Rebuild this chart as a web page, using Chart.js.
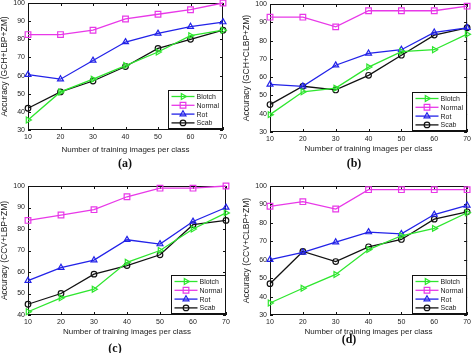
<!DOCTYPE html>
<html>
<head>
<meta charset="utf-8">
<script src="https://cdn.jsdelivr.net/npm/chart.js@4"></script>
<style>
  body { margin: 0; background: #fff; width: 474px; height: 353px; overflow: hidden; position: relative; }
  canvas { position: absolute; }
  .tag { position: absolute; font: bold 12px "Liberation Serif", "Times New Roman", serif; color: #111; transform: translate(-50%, -50%); }
</style>
</head>
<body>
<script>
const trainingImages = [10, 20, 30, 40, 50, 60, 70];
const seriesNames = ["Blotch", "Normal", "Rot", "Scab"];

// (a) GCH+LBP+ZM
const blotchA = [35.5, 51, 58, 65.5, 73, 82, 85];
const normalA = [82.6, 82.6, 85, 91.2, 93.8, 96.3, 100];
const rotA = [60.5, 58, 68.3, 78.5, 83.2, 87, 89.5];
const scabA = [42, 51, 57, 65, 75, 80, 85];

// (b) GCH+CLBP+ZM
const blotchB = [39.5, 52, 54, 65.5, 74, 75, 83.5];
const normalB = [92.8, 92.8, 87.5, 96.3, 96.3, 96.3, 98.8];
const rotB = [56, 55, 66.5, 73, 75, 84.5, 87];
const scabB = [45, 55, 53, 61, 72, 83, 87];

// (c) CCV+LBP+ZM
const blotchC = [41.5, 48, 52, 64.5, 70, 80, 87.5];
const normalC = [84, 86.5, 89, 95, 99, 99, 100];
const rotC = [56, 62, 65.5, 75, 73, 83.5, 90];
const scabC = [45, 50, 59, 63, 68, 82, 84];

// (d) CCV+CLBP+ZM
const blotchD = [36.5, 44.5, 52, 65.5, 73, 77, 85.5];
const normalD = [89, 91.5, 87.5, 98, 98, 98, 98];
const rotD = [60, 64, 69.5, 75, 74, 84.5, 89.5];
const scabD = [47, 64.5, 59, 67, 71, 82, 86];

const colors = ["#2ee62e", "#e838e8", "#2222e8", "#111111"];
const markers = [
  { style: "triangle", rot: 90, r: 3.4 },
  { style: "rect", rot: 0, r: 4 },
  { style: "triangle", rot: 0, r: 3.4 },
  { style: "circle", rot: 0, r: 2.8 }
];

const panels = [
  { tag: "(a)", yTitle: "Accuracy (GCH+LBP+ZM)", yMin: 30, series: [blotchA, normalA, rotA, scabA],
    x0: 0, y0: 0, area: { l: 28, r: 223, t: 3, b: 130 }, xTitleOff: 20, yTitlePad: 0, tagPos: [125, 163] },
  { tag: "(b)", yTitle: "Accuracy (GCH+CLBP+ZM)", yMin: 30, series: [blotchB, normalB, rotB, scabB],
    x0: 237, y0: 0, area: { l: 270, r: 469, t: 4, b: 132 }, xTitleOff: 17, yTitlePad: 5, tagPos: [354, 163] },
  { tag: "(c)", yTitle: "Accuracy (CCV+LBP+ZM)", yMin: 40, series: [blotchC, normalC, rotC, scabC],
    x0: 0, y0: 176, area: { l: 28, r: 226, t: 186, b: 315 }, xTitleOff: 17, yTitlePad: 0, tagPos: [115, 348] },
  { tag: "(d)", yTitle: "Accuracy (CCV+CLBP+ZM)", yMin: 30, series: [blotchD, normalD, rotD, scabD],
    x0: 237, y0: 176, area: { l: 270, r: 469, t: 186, b: 315 }, xTitleOff: 17, yTitlePad: 5, tagPos: [349, 339] }
];

Chart.defaults.font.family = "'Liberation Sans', Arial, sans-serif";
Chart.defaults.color = "#222";

function drawMarker(ctx, m, x, y, color) {
  ctx.save();
  ctx.strokeStyle = color;
  ctx.lineWidth = 1.2;
  ctx.fillStyle = "rgba(0,0,0,0)";
  Chart.helpers.drawPoint(ctx, { pointStyle: m.style, rotation: m.rot, radius: m.r, borderWidth: 1.2 }, x, y);
  ctx.restore();
}

// box round the plot with ticks pointing inwards
const boxPlugin = {
  id: "box",
  beforeDatasetsDraw(chart) {
    const { ctx, chartArea: a, scales } = chart;
    ctx.save();
    ctx.strokeStyle = "#111";
    ctx.lineWidth = 1;
    ctx.strokeRect(a.left + 0.5, a.top + 0.5, a.right - a.left - 1, a.bottom - a.top - 1);
    ctx.beginPath();
    scales.x.ticks.forEach((t, i) => {
      const px = Math.round(scales.x.getPixelForTick(i)) + 0.5;
      ctx.moveTo(px, a.bottom); ctx.lineTo(px, a.bottom - 3);
      ctx.moveTo(px, a.top); ctx.lineTo(px, a.top + 3);
    });
    scales.y.ticks.forEach((t, i) => {
      const py = Math.round(scales.y.getPixelForTick(i)) + 0.5;
      ctx.moveTo(a.left, py); ctx.lineTo(a.left + 3, py);
      ctx.moveTo(a.right, py); ctx.lineTo(a.right - 3, py);
    });
    ctx.stroke();
    ctx.restore();
  },
  afterDraw(chart) {
    const { ctx, chartArea: a } = chart;
    const w = 55, h = 38;
    const bx = Math.round(a.right - w) + 0.5, by = Math.round(a.bottom - 2 - h) + 0.5;
    ctx.save();
    ctx.fillStyle = "#fff";
    ctx.fillRect(bx, by, w - 1, h);
    ctx.strokeStyle = "#111";
    ctx.lineWidth = 1;
    ctx.strokeRect(bx, by, w - 1, h);
    chart.data.datasets.forEach((ds, i) => {
      const yy = by + 6 + i * 8.8;
      ctx.strokeStyle = ds.borderColor;
      ctx.lineWidth = 1.3;
      ctx.beginPath();
      ctx.moveTo(bx + 3, yy); ctx.lineTo(bx + 26, yy);
      ctx.stroke();
      drawMarker(ctx, markers[i], bx + 14.5, yy, ds.borderColor);
      ctx.fillStyle = "#222";
      ctx.font = "7px 'Liberation Sans', Arial, sans-serif";
      ctx.textBaseline = "middle";
      ctx.fillText(ds.label, bx + 28, yy + 0.5);
    });
    ctx.restore();
  }
};

panels.forEach(p => {
  const canvasTop = p.y0 - 12;
  const H = 188, W = 237;
  const canvas = document.createElement("canvas");
  canvas.width = W; canvas.height = H;
  canvas.style.left = p.x0 + "px";
  canvas.style.top = canvasTop + "px";
  document.body.appendChild(canvas);

  const tag = document.createElement("div");
  tag.className = "tag";
  tag.textContent = p.tag;
  tag.style.left = p.tagPos[0] + "px";
  tag.style.top = p.tagPos[1] + "px";
  document.body.appendChild(tag);

  const xH = p.xTitleOff + 5;
  const yW = p.area.l - p.x0;
  const areaBottom = p.area.b - canvasTop;

  new Chart(canvas.getContext("2d"), {
    type: "line",
    data: {
      labels: trainingImages,
      datasets: p.series.map((vals, i) => ({
        label: seriesNames[i],
        data: vals,
        borderColor: colors[i],
        borderWidth: 1.3,
        pointStyle: markers[i].style,
        pointRotation: markers[i].rot,
        pointRadius: markers[i].r,
        pointBorderWidth: 1.2,
        pointBorderColor: colors[i],
        pointBackgroundColor: "rgba(0,0,0,0)",
        backgroundColor: "rgba(0,0,0,0)",
        tension: 0,
        clip: false
      }))
    },
    options: {
      responsive: false,
      animation: false,
      devicePixelRatio: 1,
      layout: {
        padding: {
          left: 0,
          top: p.area.t - canvasTop,
          right: p.x0 + W - p.area.r,
          bottom: H - areaBottom - xH
        }
      },
      plugins: { legend: { display: false }, tooltip: { enabled: false } },
      scales: {
        x: {
          offset: false,
          afterFit: s => { s.height = xH; },
          grid: { display: false, drawTicks: false },
          border: { display: false },
          ticks: { padding: 3, font: { size: 7 }, maxRotation: 0 },
          title: { display: true, text: "Number of training images per class", font: { size: 8 }, padding: { top: 0, bottom: 0 } }
        },
        y: {
          min: p.yMin,
          max: 100,
          afterFit: s => { s.width = yW; },
          grid: { display: false, drawTicks: false },
          border: { display: false },
          ticks: { stepSize: 10, padding: 3, font: { size: 7 } },
          title: { display: true, text: p.yTitle, font: { size: 8.5 }, padding: { top: p.yTitlePad, bottom: 0 } }
        }
      }
    },
    plugins: [boxPlugin]
  });
});
</script>
</body>
</html>
